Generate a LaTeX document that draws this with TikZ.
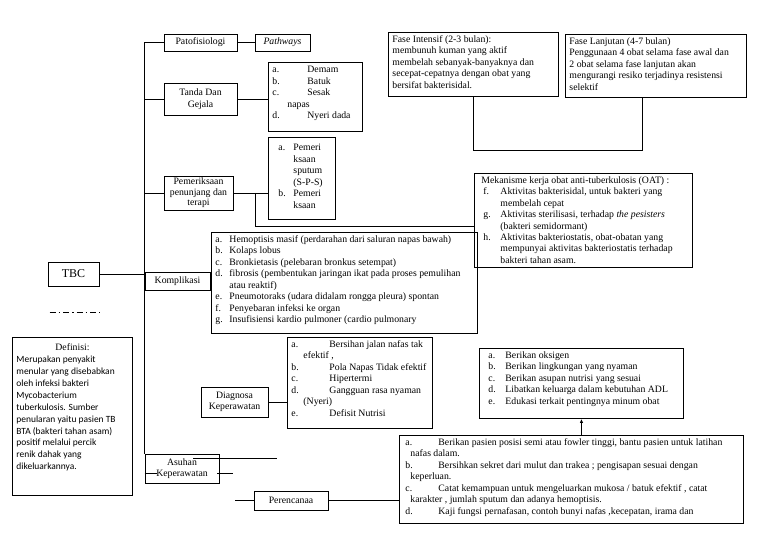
\documentclass[tikz,border=0pt]{standalone}
\usepackage{fontspec}
\setmainfont{Liberation Serif}
\newfontfamily\calibfont{Carlito}
\usetikzlibrary{arrows.meta, positioning, calc}

\newcommand{\boxtxt}[3]{\parbox[c][#2][t]{#1}{\raggedright #3}}
\newcommand{\itemlab}[2]{\makebox[#1][l]{#2}}

\begin{document}
\begin{tikzpicture}[x=1bp, y=-1bp, line width=0.9bp]
    \tikzset{every node/.style={font=\fontsize{9.8}{11.5}\selectfont},
             box/.style={rectangle, draw, inner sep=0pt, align=center},
             lbox/.style={rectangle, draw, anchor=north west, inner xsep=4bp, inner ysep=3bp}}

    \useasboundingbox (0,0) rectangle (768,543);

    % cabang kiri
    \node[box, minimum width=73bp, minimum height=17bp] (pato) at (200.5,42.5) {Patofisiologi};
    \node[box, minimum width=55bp, minimum height=17bp, font=\fontsize{9.8}{11.5}\selectfont\itshape] (pathw) at (282.5,42.5) {Pathways};
    \node[box, minimum width=73bp, minimum height=32bp] (tanda) at (200.5,99) {Tanda Dan\\Gejala};
    \node[lbox] (tlist) at (268,62) {\boxtxt{86bp}{63bp}{%
        \vspace*{1bp}
        \itemlab{35bp}{a.}Demam\\
        \itemlab{35bp}{b.}Batuk\\
        \itemlab{35bp}{c.}Sesak\\
        \hspace*{15bp}napas\\
        \itemlab{35bp}{d.}Nyeri dada}};
    \node[box, minimum width=69bp, minimum height=34bp, font=\fontsize{9.8}{10.5}\selectfont] (pem) at (198.5,193) {Pemeriksaan\\penunjang dan\\terapi};
    \node[lbox] (plist) at (268,137) {\boxtxt{59bp}{76bp}{%
        \vspace*{4bp}
        \hspace*{6bp}\itemlab{15bp}{a.}Pemeri\\
        \hspace*{21bp}ksaan\\
        \hspace*{21bp}sputum\\
        \hspace*{21bp}(S-P-S)\\
        \hspace*{6bp}\itemlab{15bp}{b.}Pemeri\\
        \hspace*{21bp}ksaan}};

    % fase pengobatan
    \node[lbox] (fi) at (388,32) {\boxtxt{162bp}{58bp}{%
        Fase Intensif (2-3 bulan):\\
        membunuh kuman yang aktif\\
        membelah sebanyak-banyaknya dan\\
        secepat-cepatnya dengan obat yang\\
        bersifat bakterisidal.}};
    \node[lbox] (fl) at (565,34) {\boxtxt{173bp}{57bp}{%
        Fase Lanjutan (4-7 bulan)\\
        Penggunaan 4 obat selama fase awal dan\\
        2 obat selama fase lanjutan akan\\
        mengurangi resiko terjadinya resistensi\\
        selektif}};
    \node[lbox] (oat) at (474,173) {\boxtxt{210bp}{88bp}{%
        \hspace*{3bp}Mekanisme kerja obat anti-tuberkulosis (OAT) :\\
        \hspace*{5bp}\itemlab{17bp}{f.}Aktivitas bakterisidal, untuk bakteri yang\\
        \hspace*{22bp}membelah cepat\\
        \hspace*{5bp}\itemlab{17bp}{g.}Aktivitas sterilisasi, terhadap \textit{the pesisters}\\
        \hspace*{22bp}(bakteri semidormant)\\
        \hspace*{5bp}\itemlab{17bp}{h.}Aktivitas bakteriostatis, obat-obatan yang\\
        \hspace*{22bp}mempunyai aktivitas bakteriostatis terhadap\\
        \hspace*{22bp}bakteri tahan asam.}};

    % komplikasi
    \node[box, minimum width=65bp, minimum height=18bp] (kompl) at (177.5,281) {Komplikasi};
    \node[lbox] (klist) at (211,232) {\boxtxt{258bp}{95bp}{%
        \itemlab{14bp}{a.}Hemoptisis masif (perdarahan dari saluran napas bawah)\\
        \itemlab{14bp}{b.}Kolaps lobus\\
        \itemlab{14bp}{c.}Bronkietasis (pelebaran bronkus setempat)\\
        \itemlab{14bp}{d.}fibrosis (pembentukan jaringan ikat pada proses pemulihan\\
        \hspace*{14bp}atau reaktif)\\
        \itemlab{14bp}{e.}Pneumotoraks (udara didalam rongga pleura) spontan\\
        \itemlab{14bp}{f.}Penyebaran infeksi ke organ\\
        \itemlab{14bp}{g.}Insufisiensi kardio pulmoner (cardio pulmonary}};

    \node[box, minimum width=51bp, minimum height=24bp, font=\fontsize{12}{14}\selectfont] (tbc) at (73.5,274) {TBC};
    \node[lbox] (def) at (12,337) {\boxtxt{112bp}{152bp}{%
        \vspace*{3bp}
        \centering Definisi:\par
        \raggedright\calibfont\fontsize{9.5}{12}\selectfont
        Merupakan penyakit\\
        menular yang disebabkan\\
        oleh infeksi bakteri\\
        Mycobacterium\\
        tuberkulosis. Sumber\\
        penularan yaitu pasien TB\\
        BTA (bakteri tahan asam)\\
        positif melalui percik\\
        renik dahak yang\\
        dikeluarkannya.}};

    % asuhan keperawatan
    \node[box, minimum width=67bp, minimum height=30bp] (diag) at (234.5,402) {Diagnosa\\Keperawatan};
    \node[lbox] (dlist) at (287,337) {\boxtxt{137bp}{85bp}{%
        \itemlab{38bp}{a.}Bersihan jalan nafas tak\\
        \hspace*{12bp}efektif ,\\
        \itemlab{38bp}{b.}Pola Napas Tidak efektif\\
        \itemlab{38bp}{c.}Hipertermi\\
        \itemlab{38bp}{d.}Gangguan rasa nyaman\\
        \hspace*{12bp}(Nyeri)\\
        \itemlab{38bp}{e.}Defisit Nutrisi}};
    \node[lbox] (ber) at (479,348) {\boxtxt{196bp}{64bp}{%
        \hspace*{5bp}\itemlab{17bp}{a.}Berikan oksigen\\
        \hspace*{5bp}\itemlab{17bp}{b.}Berikan lingkungan yang nyaman\\
        \hspace*{5bp}\itemlab{17bp}{c.}Berikan asupan nutrisi yang sesuai\\
        \hspace*{5bp}\itemlab{17bp}{d.}Libatkan keluarga dalam kebutuhan ADL\\
        \hspace*{5bp}\itemlab{17bp}{e.}Edukasi terkait pentingnya minum obat}};
    \node[box, minimum width=74bp, minimum height=29bp, font=\fontsize{9.8}{11}\selectfont] (asuh) at (182,468.5) {Asuhan\\Keperawatan};
    \node[box, minimum width=74bp, minimum height=19bp] (per) at (291,500.5) {Perencanaa};
    \node[lbox] (br) at (399,435) {\boxtxt{336bp}{82bp}{%
        \hspace*{2bp}\itemlab{33bp}{a.}Berikan pasien posisi semi atau fowler tinggi, bantu pasien untuk latihan\\
        \hspace*{7bp}nafas dalam.\\
        \hspace*{2bp}\itemlab{33bp}{b.}Bersihkan sekret dari mulut dan trakea ; pengisapan sesuai dengan\\
        \hspace*{7bp}keperluan.\\
        \hspace*{2bp}\itemlab{33bp}{c.}Catat kemampuan untuk mengeluarkan mukosa / batuk efektif , catat\\
        \hspace*{7bp}karakter , jumlah sputum dan adanya hemoptisis.\\
        \hspace*{2bp}\itemlab{33bp}{d.}Kaji fungsi pernafasan, contoh bunyi nafas ,kecepatan, irama dan}};

    % garis penghubung
    \draw (pato.west) -- ++(-19,0) coordinate (spine);
    \draw (spine) -- (spine |- asuh.north);
    \draw (pato.east) -- (pathw.west);
    \draw (tanda.west -| spine) -- (tanda.west);
    \draw (tanda.east) -- (tanda.east -| tlist.west);
    \draw (pem.west -| spine) -- (pem.west);
    \draw (pem.east) -- (pem.east -| plist.west);
    \draw ($(pem.east)+(22,0)$) |- ($(oat.west)+(0,6)$);
    \draw (tbc.east) -- (tbc.east -| spine);
    \draw (kompl.east) -- (kompl.east -| klist.west);
    \draw (fi.south) -- ++(0,54) coordinate (bar);
    \draw ($(fl.south)+(-13.5,0)$) |- (bar);
    \draw ($(oat.north)+(-8,0)$) -- ($(oat.north)+(-8,0)$ |- bar);
    \draw (diag.east) -- (diag.east -| dlist.west);
    \draw ($(asuh.north)+(11,5)$) -- ++(84,0);
    \draw ($(asuh.west)+(0,4.5)$) -- ++(12,0);
    \draw ($(asuh.east)+(-2,4.5)$) -- ++(16,0);
    \draw (per.west) -- ++(-19,0);
    \draw (per.east) -- (per.east -| br.west);
    \draw[-{Latex[length=4bp,width=3.5bp]}] (br.north -| ber.south) -- (ber.south);
    \draw[dash pattern=on 6bp off 3bp on 1.5bp off 3bp] ($(tbc.south west)+(2,26)$) coordinate (dd) -- ++(50,0);
\end{tikzpicture}
\end{document}
